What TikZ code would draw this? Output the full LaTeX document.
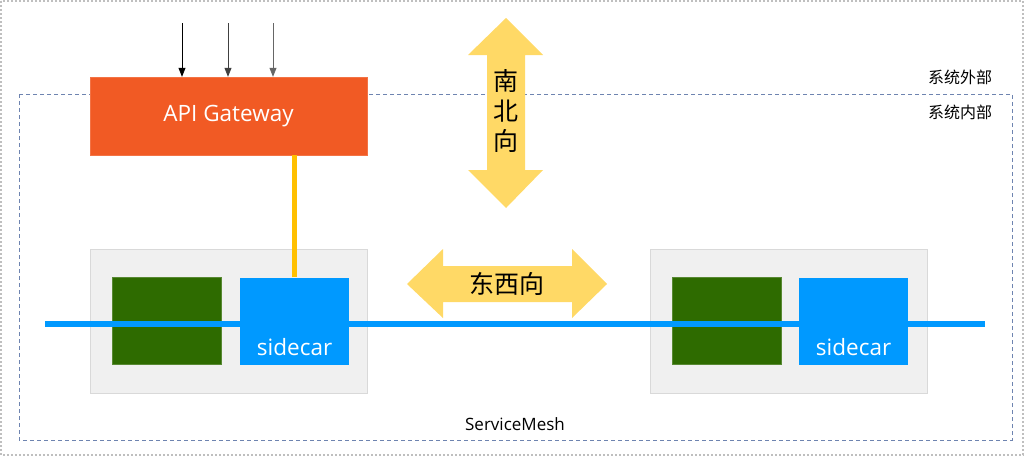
\documentclass[tikz,border=0pt]{standalone}
\usepackage{fontspec}
\setmainfont{Open Sans}
\newfontfamily\cjk{Noto Sans CJK SC}
\usetikzlibrary{positioning, arrows.meta}

\definecolor{gwOrange}{HTML}{F15A24}
\definecolor{appGreen}{HTML}{2E6B00}
\definecolor{carBlue}{HTML}{0099FF}
\definecolor{linkGold}{HTML}{FFC000}
\definecolor{flowYellow}{HTML}{FFD966}
\definecolor{frameBlue}{HTML}{6E84B0}
\definecolor{podGray}{HTML}{F0F0F0}
\definecolor{podEdge}{HTML}{D9D9D9}

\tikzstyle{gateway} = [rectangle, minimum width=277pt, minimum height=78pt, text centered, draw=gwOrange!85!white, fill=gwOrange, text=white, font=\fontsize{22.5}{26}\selectfont]
\tikzstyle{pod} = [rectangle, minimum width=277pt, minimum height=144pt, draw=podEdge, line width=1pt, fill=podGray]
\tikzstyle{app} = [rectangle, minimum width=109pt, minimum height=87pt, inner sep=0pt, draw=appGreen!80!white, fill=appGreen]
\tikzstyle{sidecar} = [rectangle, minimum width=109pt, minimum height=87pt, inner sep=0pt, fill=carBlue]
\tikzstyle{cartext} = [text=white, font=\fontsize{22.5}{26}\selectfont]
\tikzstyle{flow} = [fill=flowYellow]
\tikzstyle{flowtext} = [font=\cjk\fontsize{25}{30}\selectfont, align=center]
\tikzstyle{note} = [font=\cjk\fontsize{16}{19}\selectfont]
\tikzstyle{arrow} = [line width=0.8pt,-{Triangle[length=9pt,width=7pt]}]
\tikzstyle{mesh} = [line width=6pt, carBlue]
\tikzstyle{link} = [line width=5pt, linkGold]
\tikzstyle{boundary} = [frameBlue, line width=1pt, dash pattern=on 4pt off 3pt]

\begin{document}
\begin{tikzpicture}[x=1pt, y=-1pt]
        \useasboundingbox (0,0) rectangle (1024,456);
        \draw [black!25, line width=2pt, dash pattern=on 2pt off 2pt] (1,1) rectangle (1023,455);

        % boundary between outside and inside
        \draw [boundary] (19,94) rectangle (1012,440);
        \node (outside) [note] at (960,77) {系统外部};
        \node (inside) [note] at (960,112) {系统内部};
        \node (meshname) [font=\fontsize{17}{20}\selectfont] at (515,424) {ServiceMesh};

        % gateway
        \node (gw) [gateway] at (228.5,116) {API Gateway};
        \coordinate (in1) at (182,23);
        \coordinate (in2) at (228,23);
        \coordinate (in3) at (273,23);
        \draw [arrow] (in1) -- (in1 |- gw.north);
        \draw [arrow, black!75] (in2) -- (in2 |- gw.north);
        \draw [arrow, black!60] (in3) -- (in3 |- gw.north);

        % pods
        \node (podA) [pod] at (228.5,321) {};
        \node (appA) [app, right=22pt of podA.west] {};
        \node (sideA) [sidecar, right=19pt of appA] {};
        \node (podB) [pod, right=282pt of podA] {};
        \node (appB) [app, right=22pt of podB.west] {};
        \node (sideB) [sidecar, right=18pt of appB] {};

        \coordinate (meshL) at (45,324);
        \coordinate (meshR) at (985,324);
        \draw [mesh] (meshL) -- (meshR);
        \node [sidecar] at (sideA) {};
        \node [sidecar] at (sideB) {};
        \node (sideAtxt) [cartext] at ([yshift=-26pt]sideA.center) {sidecar};
        \node (sideBtxt) [cartext] at ([yshift=-26pt]sideB.center) {sidecar};

        \draw [link] (sideA.north) -- (sideA.north |- gw.south);

        % north-south and east-west traffic
        \fill [flow] (506,18) -- (543,55) -- (525,55) -- (525,170) -- (543,170) -- (506,208)
            -- (468,170) -- (487,170) -- (487,55) -- (468,55) -- cycle;
        \node (ns) [flowtext] at (506,111) {南\\北\\向};
        \fill [flow] (407,284) -- (443,249) -- (443,266) -- (572,266) -- (572,249) -- (607,284)
            -- (572,318) -- (572,302) -- (443,302) -- (443,318) -- cycle;
        \node (ew) [flowtext] at (507,284) {东西向};
    \end{tikzpicture}
\end{document}
